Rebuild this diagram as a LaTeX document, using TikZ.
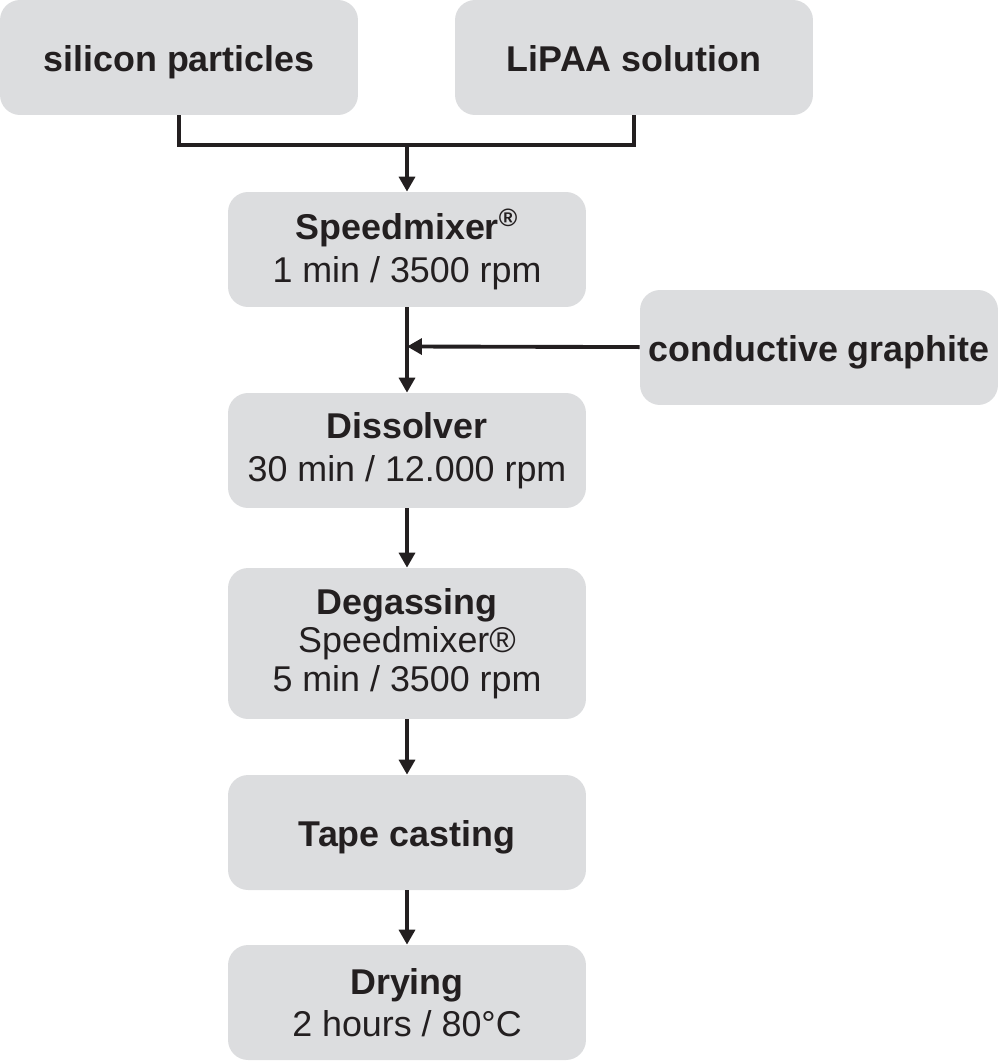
\documentclass[tikz,border=0pt]{standalone}
\usepackage{fontspec}
\setmainfont{Liberation Sans}
\usetikzlibrary{arrows.meta,positioning,calc}
\definecolor{boxgray}{HTML}{DCDDDF}
\definecolor{ink}{HTML}{231F20}

\begin{document}
\begin{tikzpicture}[x=0.02cm,y=-0.02cm,>={Triangle[width=9pt,length=8.5pt]},
  every node/.style={text=ink},
  proc/.style={fill=boxgray,rounded corners=0.4cm,minimum width=7.16cm,minimum height=2.3cm,inner sep=0pt,align=center,font=\fontsize{20.4}{24.2}\selectfont},
  oneline/.style={proc,text height=20.5pt,text depth=4.1pt},
  flow/.style={draw=ink,line width=2.2pt}]
\useasboundingbox (0,0) rectangle (1000,1061);
\node[oneline] (si) at (179,57.5) {\textbf{silicon particles}};
\node[oneline] (lipaa) at (634,57.5) {\textbf{LiPAA solution}};
\node[proc] (mix) at (407,249.5) {\textbf{Speedmixer\textsuperscript{®}}\\1 min / 3500 rpm};
\node[oneline] (graph) at (819,347.5) {\textbf{conductive graphite}};
\node[proc] (diss) at (407,450.5) {\textbf{Dissolver}\\30 min / 12.000 rpm};
\node[proc,minimum height=3.02cm,font=\fontsize{20.4}{21.8}\selectfont] (degas) at (407,643.5) {\textbf{Degassing}\\Speedmixer®\\5 min / 3500 rpm};
\node[oneline] (tape) at (407,832.5) {\textbf{Tape casting}};
\node[proc] (dry) at (407,1002.5) {\textbf{Drying}\\2 hours / 80°C};
% bracket joining the two inputs
\coordinate (join) at (407,145);
\draw[flow] (si.south) -- (si.south |- join) -- (lipaa.south |- join) -- (lipaa.south);
\draw[->,flow] (join) -- (mix.north);
\coordinate (feed) at (407,346.5);
\draw[->,flow] (mix) -- (diss);
\draw[->,flow] (graph) -- (feed);
\draw[->,flow] (diss) -- (degas);
\draw[->,flow] (degas) -- (tape);
\draw[->,flow] (tape) -- (dry);
\end{tikzpicture}
\end{document}
